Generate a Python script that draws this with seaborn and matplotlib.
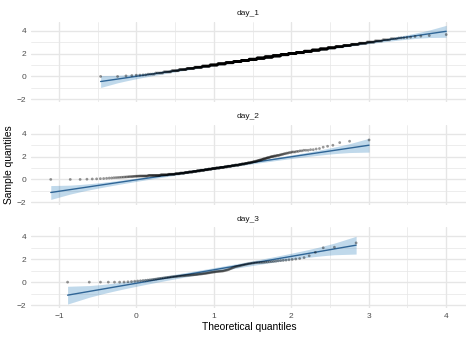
import numpy as np
import matplotlib
matplotlib.use("Agg")
import matplotlib.pyplot as plt
import seaborn as sns
from statistics import NormalDist

# ---------------- data ----------------
days = ["day_1", "day_2", "day_3"]

# day_1 sample (sorted), stored as value / count runs, n = 1000
day1_values = [0.0, 0.05, 0.08, 0.11, 0.12, 0.13, 0.14,
               0.2, 0.3, 0.4, 0.5, 0.6, 0.7, 0.8, 0.9, 1.0, 1.1,
               1.2, 1.3, 1.4, 1.5, 1.6, 1.7, 1.8, 1.9, 2.0, 2.1,
               2.2, 2.3, 2.4, 2.5, 2.6, 2.7, 2.8, 2.9, 3.0, 3.1, 3.2, 3.3,
               3.36, 3.37, 3.38, 3.40, 3.43, 3.49, 3.52, 3.57, 3.66]
day1_counts = [2, 1, 1, 1, 1, 1, 1,
               4, 6, 8, 10, 13, 17, 21, 26, 31, 37,
               42, 47, 51, 55, 58, 60, 60, 58, 56, 52,
               48, 43, 38, 32, 27, 22, 18, 14, 11, 8, 6, 4,
               1, 1, 1, 1, 1, 1, 1, 1, 1]

# day_2 sample (sorted), value / count runs, n = 300
day2_values = [0.0, 0.02, 0.04, 0.05, 0.07, 0.08, 0.10, 0.12, 0.13, 0.15, 0.16,
               0.17, 0.18, 0.19, 0.20, 0.21, 0.22, 0.23, 0.24, 0.25, 0.26, 0.27,
               0.28, 0.29,
               0.30, 0.35, 0.40, 0.45, 0.50, 0.55, 0.60, 0.65, 0.70, 0.75, 0.80,
               0.85, 0.90, 0.95, 1.00, 1.05, 1.10, 1.15, 1.20, 1.25, 1.30, 1.35,
               1.40, 1.45, 1.50, 1.55, 1.60, 1.65, 1.70, 1.75, 1.80, 1.85, 1.90,
               1.95, 2.00, 2.05, 2.10, 2.15, 2.20, 2.25, 2.30, 2.35, 2.40, 2.45,
               2.50, 2.55, 2.60,
               2.66, 2.70, 2.82, 2.90, 2.99, 3.22, 3.34, 3.45]
day2_counts = [3, 1, 1, 1, 1, 1, 1, 1, 1, 1, 1,
               1, 1, 1, 1, 1, 1, 1, 1, 2, 1, 1,
               2, 2,
               9, 16, 12, 12, 9, 9, 8, 9, 8, 8, 9,
               8, 8, 9, 9, 9, 7, 8, 7, 8, 5, 6,
               5, 5, 4, 4, 3, 3, 3, 2, 3, 2, 3,
               2, 3, 3, 3, 2, 2, 2, 2, 2, 3, 2,
               2, 3, 2,
               1, 1, 1, 1, 1, 1, 1, 1]

# day_3 sample (sorted), n = 120
day3_values = [0.0, 0.0, 0.0, 0.0, 0.0, 0.0, 0.01, 0.03, 0.05, 0.08,
               0.10, 0.12, 0.14, 0.16, 0.18, 0.20, 0.22, 0.25, 0.27, 0.30,
               0.32, 0.34, 0.36, 0.38, 0.40, 0.42, 0.43, 0.45, 0.47, 0.48,
               0.49, 0.50, 0.52, 0.53, 0.54, 0.55, 0.56, 0.57, 0.58, 0.59,
               0.60, 0.61, 0.62, 0.63, 0.64, 0.65, 0.66, 0.67, 0.69, 0.70,
               0.71, 0.72, 0.74, 0.75, 0.76, 0.78, 0.80, 0.81, 0.83, 0.85,
               0.86, 0.88, 0.89, 0.91, 0.92, 0.93, 0.94, 0.95, 0.96, 0.97,
               0.99, 1.02, 1.04, 1.07, 1.10, 1.15, 1.19, 1.24, 1.28, 1.33,
               1.36, 1.38, 1.41, 1.43, 1.46, 1.49, 1.52, 1.54, 1.57, 1.60,
               1.62, 1.64, 1.66, 1.68, 1.70, 1.71, 1.71, 1.72, 1.72, 1.73,
               1.75, 1.76, 1.78, 1.79, 1.81, 1.83, 1.86, 1.88, 1.90, 1.92,
               1.95, 1.98, 2.02, 2.06, 2.14, 2.30, 2.60, 3.00, 3.05, 3.43]

# parameters of the fitted normal used for the theoretical quantiles
dist_mean = [1.77, 0.95, 0.975]
dist_sd = [0.678, 0.70, 0.706]

x_ticks = [-1, 0, 1, 2, 3, 4]
y_ticks = [-2, 0, 2, 4]
x_title = "Theoretical quantiles"
y_title = "Sample quantiles"

samples = [np.repeat(day1_values, day1_counts),
           np.repeat(day2_values, day2_counts),
           np.asarray(day3_values, float)]

# ---------------- QQ statistics (point, line, pointwise band) ----------------
z975 = NormalDist().inv_cdf(0.975)
stats = []
for s, mu, sd in zip(samples, dist_mean, dist_sd):
    y = np.sort(np.asarray(s, float))
    n = len(y)
    nd = NormalDist(mu, sd)
    p = (np.arange(1, n + 1) - 0.5) / n
    x = np.array([nd.inv_cdf(v) for v in p])
    yq = np.quantile(y, [0.25, 0.75])
    xq = np.array([nd.inv_cdf(0.25), nd.inv_cdf(0.75)])
    slope = (yq[1] - yq[0]) / (xq[1] - xq[0])
    intercept = yq[0] - slope * xq[0]
    fit = intercept + slope * x
    dens = np.array([nd.pdf(v) for v in x])
    se = slope / dens * np.sqrt(p * (1 - p) / n)
    stats.append(dict(x=x, y=y, fit=fit, lo=fit - z975 * se, hi=fit + z975 * se))

allx = np.concatenate([d["x"] for d in stats])
ally = np.concatenate([np.concatenate([d["y"], d["lo"], d["hi"]]) for d in stats])
xr = allx.max() - allx.min()
yr = ally.max() - ally.min()
xlim = (allx.min() - 0.05 * xr, allx.max() + 0.05 * xr)
ylim = (ally.min() - 0.05 * yr, ally.max() + 0.05 * yr)

# ---------------- figure ----------------
sns.set_style("white")
plt.rcParams["font.family"] = ["Liberation Sans", "DejaVu Sans"]

W, H = 474, 338
fig = plt.figure(figsize=(W / 100, H / 100), dpi=100)

left_px, right_px = 31, 466
panel_tops = [21.7, 124.7, 227.4]
panel_h = 80.3

grid_col = "#e6e6e6"
band_col = "#3182bd"
line_col = "#2f6596"

axes = []
for i, (day, d) in enumerate(zip(days, stats)):
    top = panel_tops[i]
    ax = fig.add_axes([left_px / W, 1 - (top + panel_h) / H,
                       (right_px - left_px) / W, panel_h / H])
    axes.append(ax)
    ax.fill_between(d["x"], d["lo"], d["hi"], color=band_col, alpha=0.3,
                    linewidth=0, zorder=1)
    sns.lineplot(x=d["x"], y=d["fit"], ax=ax, color=line_col, linewidth=1.0,
                 estimator=None, sort=False, zorder=2)
    sns.scatterplot(x=d["x"], y=d["y"], ax=ax, color="black", alpha=0.4, s=4,
                    edgecolor="none", linewidth=0, zorder=3)
    ax.set_xlim(xlim)
    ax.set_ylim(ylim)
    ax.set_xticks(x_ticks)
    ax.set_yticks(y_ticks)
    ax.set_xticks([(a + b) / 2 for a, b in zip(x_ticks[:-1], x_ticks[1:])], minor=True)
    ax.set_yticks([(a + b) / 2 for a, b in zip(y_ticks[:-1], y_ticks[1:])], minor=True)
    ax.grid(which="major", color=grid_col, linewidth=0.95)
    ax.grid(which="minor", color=grid_col, linewidth=0.5)
    ax.set_axisbelow(True)
    for sp in ax.spines.values():
        sp.set_visible(False)
    ax.tick_params(which="both", length=0, labelsize=6, colors="#4d4d4d", pad=3.5)
    if i < 2:
        ax.tick_params(labelbottom=False)
    ax.set_xlabel("")
    ax.set_ylabel("")
    ax.annotate(day, xy=(0.5, 1), xycoords="axes fraction", xytext=(0, 5.6),
                textcoords="offset points", ha="center", va="center",
                fontsize=6, color="#1a1a1a")

fig.text(249 / W, 1 - 327 / H, x_title, ha="center", va="center", fontsize=7.4,
         color="black")
fig.text(9 / W, 1 - 164.6 / H, y_title, ha="center", va="center", fontsize=7.4,
         rotation=90, color="black")

fig.savefig("out.png", dpi=100)
